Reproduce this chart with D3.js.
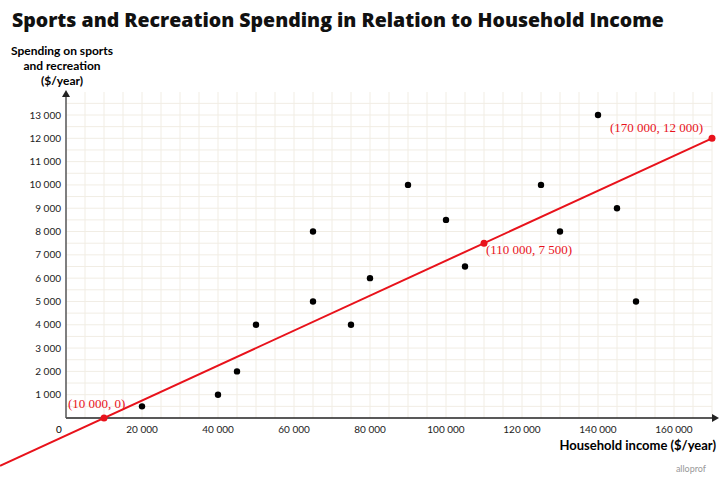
<!DOCTYPE html><html><head><meta charset="utf-8"><script src="https://cdn.jsdelivr.net/npm/d3@7"></script>
<style>body{margin:0;background:#fff}</style></head><body><svg id="c" width="720" height="477" font-family="Lato, 'Open Sans', sans-serif"></svg>
<script>
const incomes=[20000,40000,45000,50000,65000,65000,75000,80000,90000,100000,105000,125000,130000,140000,145000,150000];
const spending=[500,1000,2000,4000,8000,5000,4000,6000,10000,8500,6500,10000,8000,13000,9000,5000];
const fitPoints=[[10000,0,"(10 000, 0)"],[110000,7500,"(110 000, 7 500)"],[170000,12000,"(170 000, 12 000)"]];
const xTicks=[20000,40000,60000,80000,100000,120000,140000,160000];
const yTicks=[1000,2000,3000,4000,5000,6000,7000,8000,9000,10000,11000,12000,13000];
const fmt=v=>d3.format(",")(v).replace(/,/g," ");
const svg=d3.select("#c");
const x=d3.scaleLinear().domain([0,170000]).range([66,712]);
const y=d3.scaleLinear().domain([0,13000]).range([418,115]);
const g=svg.append("g");
for(let v=5000;v<=170000;v+=5000)g.append("line").attr("x1",x(v)).attr("x2",x(v)).attr("y1",418).attr("y2",92).attr("stroke","#f1ede4");
for(let v=500;v<=13900;v+=500)g.append("line").attr("x1",66).attr("x2",712).attr("y1",y(v)).attr("y2",y(v)).attr("stroke","#f1ede4");
svg.append("line").attr("x1",66).attr("x2",713).attr("y1",418).attr("y2",418).attr("stroke","#222").attr("stroke-width",1.5);
svg.append("line").attr("x1",66).attr("x2",66).attr("y1",418).attr("y2",96).attr("stroke","#555").attr("stroke-width",1.5);
svg.append("path").attr("d","M712,414L719,418L712,422Z").attr("fill","#222");
svg.append("path").attr("d","M62,97L66,90L70,97Z").attr("fill","#222");
svg.selectAll(".xt").data(xTicks).join("text").attr("x",d=>x(d)).attr("y",433).attr("text-anchor","middle").attr("font-size",10).attr("fill","#222").text(fmt);
svg.append("text").attr("x",59).attr("y",433).attr("text-anchor","middle").attr("font-size",10).text("0");
svg.selectAll(".yt").data(yTicks).join("text").attr("x",61).attr("y",d=>y(d)+3.5).attr("text-anchor","end").attr("font-size",10).attr("fill","#222").text(fmt);
const lf=v=>0.075*(v-10000);
const x0=x.invert(0);
svg.append("line").attr("x1",x(x0)).attr("y1",y(lf(x0))).attr("x2",x(170000)).attr("y2",y(12000)).attr("stroke","#e8121b").attr("stroke-width",2);
svg.selectAll(".pt").data(incomes).join("circle").attr("cx",d=>x(d)).attr("cy",(d,i)=>y(spending[i])).attr("r",3.2).attr("fill","#000");
svg.selectAll(".fp").data(fitPoints).join("circle").attr("cx",d=>x(d[0])).attr("cy",d=>y(d[1])).attr("r",3.5).attr("fill","#e8121b");
const lp=[[68,408],[486,254],[610,132]];
svg.selectAll(".fl").data(fitPoints).join("text").attr("x",(d,i)=>lp[i][0]).attr("y",(d,i)=>lp[i][1]).attr("font-family","'Liberation Serif', serif").attr("font-size",13).attr("fill","#e8121b").text(d=>d[2]);
svg.append("text").attr("x",12).attr("y",27).attr("font-size",19.5).attr("font-weight",800).attr("font-family","'Open Sans', sans-serif").attr("fill","#111").text("Sports and Recreation Spending in Relation to Household Income");
[["Spending on sports",55],["and recreation",70],["($/year)",85]].forEach(t=>svg.append("text").attr("x",62).attr("y",t[1]).attr("text-anchor","middle").attr("font-size",12).attr("font-weight",700).text(t[0]));
svg.append("text").attr("x",716).attr("y",450).attr("text-anchor","end").attr("font-size",13).attr("font-weight",700).text("Household income  ($/year)");
svg.append("text").attr("x",706).attr("y",472).attr("text-anchor","end").attr("font-size",9).attr("fill","#999").text("alloprof");
</script></body></html>
